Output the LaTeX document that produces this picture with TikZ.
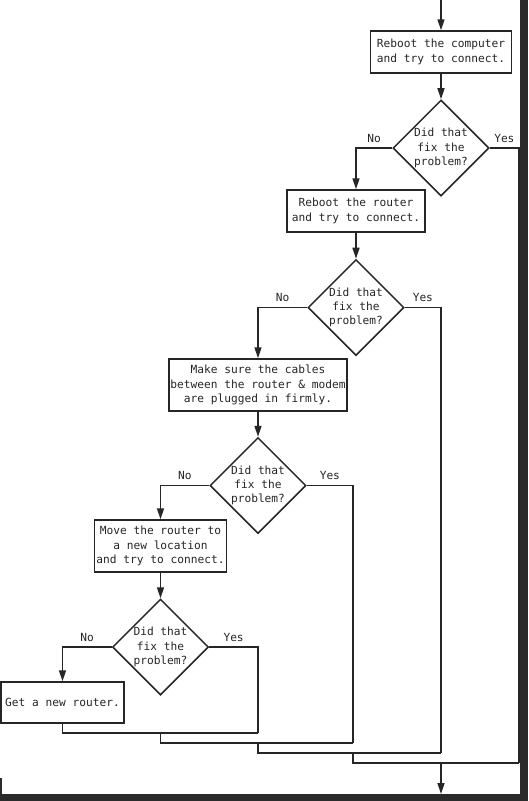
\documentclass[tikz,border=0pt]{standalone}
\usepackage{fontspec}
\setmonofont{DejaVu Sans Mono}
\usepackage{tikz}
\usetikzlibrary{shapes.geometric,arrows.meta}
\definecolor{ink}{HTML}{262626}
\definecolor{frame}{HTML}{2B2B2B}

\begin{document}
\begin{tikzpicture}[x=1pt, y=-1pt,
    every node/.style={font=\ttfamily\fontsize{11.2}{14.2}\selectfont, text=ink},
    box/.style={draw=ink, line width=1.5pt, inner sep=0pt, align=center},
    check/.style={draw=ink, line width=1.5pt, diamond, aspect=1, inner sep=0pt,
        minimum width=96pt, minimum height=96pt, align=center},
    lbl/.style={above, inner sep=5pt},
    link/.style={draw=ink, line width=1.5pt},
    arr/.style={link, -{Triangle[length=11pt, width=7pt]}}]
    \useasboundingbox (0,0) rectangle (528,801);

    % Background and frame
    \fill[frame] (0,0) rectangle (528,801);
    \fill[white] (0,0) rectangle (520,794);
    \fill[frame] (0,778) rectangle (1.5,794);

    % Draw the steps
    \node[box, minimum width=141pt, minimum height=42pt] (computer) at (441,52)
        {Reboot the computer\\and try to connect.};
    \node[check] (d1) at (441,148) {Did that\\fix the\\problem?};
    \node[box, minimum width=138pt, minimum height=42pt] (router) at (356,211)
        {Reboot the router\\and try to connect.};
    \node[check] (d2) at (356,307.5) {Did that\\fix the\\problem?};
    \node[box, minimum width=178pt, minimum height=52pt] (cables) at (258,385)
        {Make sure the cables\\between the router \& modem\\are plugged in firmly.};
    \node[check] (d3) at (258,485.5) {Did that\\fix the\\problem?};
    \node[box, minimum width=132pt, minimum height=52pt] (move) at (160.5,546)
        {Move the router to\\a new location\\and try to connect.};
    \node[check] (d4) at (160.5,647) {Did that\\fix the\\problem?};
    \node[box, minimum width=123pt, minimum height=41pt] (newrouter) at (62.5,702.5)
        {Get a new router.};

    % Ends of the lines
    \coordinate (start) at (441,0);
    \coordinate (y4) at (258,733);
    \coordinate (y3) at (353,743);
    \coordinate (y2) at (441,753);
    \coordinate (y1) at (519,763);
    \coordinate (finish) at (441,794);

    % Arrows down the chart
    \draw[arr] (start) -- (computer);
    \draw[arr] (computer) -- (d1);
    \draw[arr] (d1.west) -| node[lbl, pos=0.25] {No} (router.north);
    \draw[arr] (router) -- (d2);
    \draw[arr] (d2.west) -| node[lbl, pos=0.25] {No} (cables.north);
    \draw[arr] (cables) -- (d3);
    \draw[arr] (d3.west) -| node[lbl, pos=0.25] {No} (move.north);
    \draw[arr] (move) -- (d4);
    \draw[arr] (d4.west) -| node[lbl, pos=0.25] {No} (newrouter.north);

    % Yes lines and joins
    \draw[link] (d1.east) -| node[lbl, pos=0.25] {Yes} (y1);
    \draw[link] (d2.east) -| node[lbl, pos=0.25] {Yes} (y2);
    \draw[link] (d3.east) -| node[lbl, pos=0.25] {Yes} (y3);
    \draw[link] (d4.east) -| node[lbl, pos=0.25] {Yes} (y4);
    \draw[link] (newrouter.south) |- (y4);
    \draw[link] (d4.south |- y4) |- (y3);
    \draw[link] (d3.south |- y3) |- (y2);
    \draw[link] (y3 |- y2) |- (y1);
    \draw[arr] (y2 |- y1) -- (finish);
\end{tikzpicture}
\end{document}
